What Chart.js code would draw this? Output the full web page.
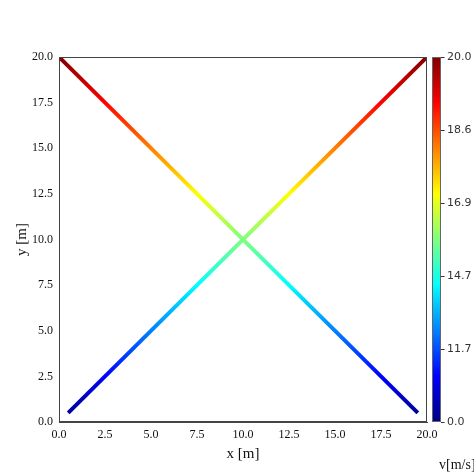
<!DOCTYPE html>
<html>
<head>
<meta charset="utf-8">
<script src="https://cdn.jsdelivr.net/npm/chart.js@4/dist/chart.umd.min.js"></script>
<style>
  html, body { margin: 0; padding: 0; background: #fff; }
  #wrap { width: 474px; height: 474px; }
</style>
</head>
<body>
<div id="wrap"><canvas id="xChart" width="474" height="474"></canvas></div>
<script>
// data
var pathAX = [0.5, 20.0];
var pathAY = [0.5, 20.0];
var pathBX = [0.0, 19.5];
var pathBY = [20.0, 0.5];
var axisTicks = [0, 2.5, 5, 7.5, 10, 12.5, 15, 17.5, 20];
var cbarLabels = ['0.0', '11.7', '14.7', '16.9', '18.6', '20.0'];

var serif = '"Liberation Serif", "DejaVu Serif", serif';
var sans = '"DejaVu Sans", "Liberation Sans", Arial, sans-serif';

// matplotlib-ish jet
function jet(t) {
    function c(v) { return Math.max(0, Math.min(1, v)); }
    var r = c(Math.min(4 * t - 1.5, -4 * t + 4.5));
    var g = c(Math.min(4 * t - 0.5, -4 * t + 3.5));
    var b = c(Math.min(4 * t + 0.5, -4 * t + 2.5));
    return 'rgb(' + Math.round(r * 255) + ',' + Math.round(g * 255) + ',' + Math.round(b * 255) + ')';
}

function jetGradient(ctx, top, bottom) {
    var grad = ctx.createLinearGradient(0, bottom, 0, top);
    for (var i = 0; i <= 40; i++) {
        grad.addColorStop(i / 40, jet(i / 40));
    }
    return grad;
}

function lineColor(context) {
    var chart = context.chart;
    var area = chart.chartArea;
    if (!area) return '#000';
    var ys = chart.scales.y;
    return jetGradient(chart.ctx, ys.getPixelForValue(20), ys.getPixelForValue(0));
}

function toPoints(xs, ys) {
    return xs.map(function (x, i) { return { x: x, y: ys[i] }; });
}

// box around plot + colorbar + its labels
var extras = {
    id: 'extras',
    afterDraw: function (chart) {
        var ctx = chart.ctx;
        var a = chart.chartArea;
        ctx.save();
        ctx.strokeStyle = '#444';
        ctx.lineWidth = 1;
        ctx.strokeRect(a.left + 0.5, a.top + 0.5, a.right - a.left - 1, a.bottom - a.top - 1);

        var bx = 432, bw = 9;
        ctx.fillStyle = jetGradient(ctx, a.top, a.bottom);
        ctx.fillRect(bx, a.top, bw, a.bottom - a.top);
        ctx.strokeStyle = '#666';
        ctx.strokeRect(bx + 0.5, a.top + 0.5, bw - 1, a.bottom - a.top - 1);

        ctx.fillStyle = '#333';
        ctx.font = '11px ' + sans;
        ctx.textBaseline = 'middle';
        ctx.textAlign = 'left';
        for (var i = 0; i < cbarLabels.length; i++) {
            var y = a.bottom - (a.bottom - a.top) * i / (cbarLabels.length - 1);
            ctx.beginPath();
            ctx.moveTo(bx + bw, Math.round(y) + 0.5);
            ctx.lineTo(bx + bw + 3.5, Math.round(y) + 0.5);
            ctx.strokeStyle = '#333';
            ctx.stroke();
            ctx.fillText(cbarLabels[i], bx + bw + 6, y);
        }

        ctx.font = '14px ' + serif;
        ctx.fillStyle = '#111';
        ctx.textAlign = 'left';
        ctx.textBaseline = 'alphabetic';
        ctx.fillText('v[m/s]', 439, 469);
        ctx.restore();
    }
};

var ctxX = document.getElementById('xChart');
var myChart = new Chart(ctxX, {
    type: 'scatter',
    data: {
        datasets: [
            {
                data: toPoints(pathAX, pathAY),
                showLine: true,
                borderColor: lineColor,
                borderWidth: 4,
                pointRadius: 0,
                clip: 0
            },
            {
                data: toPoints(pathBX, pathBY),
                showLine: true,
                borderColor: lineColor,
                borderWidth: 4,
                pointRadius: 0,
                clip: 0
            }
        ]
    },
    plugins: [extras],
    options: {
        responsive: false,
        animation: false,
        layout: { padding: { top: 57, right: 47, left: 0, bottom: 0 } },
        plugins: { legend: { display: false }, tooltip: { enabled: false } },
        scales: {
            x: {
                type: 'linear',
                min: 0, max: 20,
                afterBuildTicks: function (s) { s.ticks = axisTicks.map(function (v) { return { value: v }; }); },
                afterFit: function (s) { s.height = 52; },
                grid: { display: false, drawTicks: true, tickLength: 4, color: '#333' },
                border: { display: true, color: '#444' },
                ticks: {
                    color: '#111',
                    padding: 2,
                    maxRotation: 0,
                    font: { family: serif, size: 12 },
                    callback: function (v) { return Number(v).toFixed(1); }
                },
                title: { display: true, text: 'x [m]', color: '#111', padding: { top: 0, bottom: 11 }, font: { family: serif, size: 15 } }
            },
            y: {
                type: 'linear',
                min: 0, max: 20,
                afterBuildTicks: function (s) { s.ticks = axisTicks.map(function (v) { return { value: v }; }); },
                afterFit: function (s) { s.width = 59; },
                grid: { display: false, drawTicks: true, tickLength: 4, color: '#333' },
                border: { display: true, color: '#444' },
                ticks: {
                    color: '#111',
                    padding: 2,
                    font: { family: serif, size: 12 },
                    callback: function (v) { return Number(v).toFixed(1); }
                },
                title: { display: true, text: 'y [m]', color: '#111', padding: { top: 13, bottom: 0 }, font: { family: serif, size: 15 } }
            }
        }
    }
});
</script>
</body>
</html>
